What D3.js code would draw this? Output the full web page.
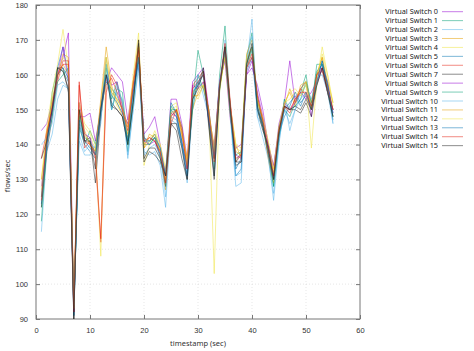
<!DOCTYPE html>
<html>
<head>
<meta charset="utf-8">
<script src="https://cdn.jsdelivr.net/npm/d3@7"></script>
<style>
  body { margin: 0; background: #fff; }
  svg { display: block; font-family: "Noto Sans", sans-serif; }
  .axis text { fill: #333; font-size: 7.5px; }
</style>
</head>
<body>
<svg width="474" height="351"></svg>
<script>
// ---- Data (flows/sec per virtual switch, t = 1..55)
const timestamps = d3.range(1, 56);
const switchNames = d3.range(16).map(i => `Virtual Switch ${i}`);
const xTicks = [0, 10, 20, 30, 40, 50, 60];
const yTicks = [90, 100, 110, 120, 130, 140, 150, 160, 170, 180];

const sw0  = [144,146,152,160,165,172,93,148,148,149,141,150,158,162,160,158,147,158,166,143,145,148,140,131,153,153,146,136,158,160,162,150,138,158,164,147,139,140,160,162,157,150,140,133,146,152,164,152,156,158,148,160,163,155,150];
const sw1  = [122,140,155,162,161,158,92,145,140,144,140,150,163,153,158,152,138,152,165,140,140,142,136,129,150,150,145,133,152,167,160,147,133,160,174,150,135,138,165,172,150,145,137,128,142,150,148,152,155,160,150,163,163,157,150];
const sw2  = [115,138,143,153,157,156,93,141,137,137,140,146,165,150,155,153,137,150,162,138,137,138,134,122,147,146,140,129,150,158,156,148,131,155,170,148,128,129,163,176,148,145,137,124,140,153,144,150,153,155,150,160,163,158,146];
const sw3  = [125,143,152,159,166,165,94,152,144,140,138,153,168,157,152,148,142,158,170,139,141,143,138,127,148,150,142,135,150,155,158,148,140,156,166,151,140,136,166,170,152,147,136,129,143,152,155,151,157,158,152,160,165,155,150];
const sw4  = [130,145,155,163,173,162,95,150,145,143,138,150,160,155,151,149,146,160,172,134,140,144,140,133,151,152,143,136,155,153,157,150,103,155,166,150,140,139,165,168,152,148,141,133,145,152,153,155,154,157,150,158,166,160,152];
const sw5  = [123,142,150,162,168,160,91,146,140,138,136,150,158,156,154,150,141,156,164,142,141,143,139,131,150,148,140,131,155,157,160,148,136,157,166,150,131,133,161,165,150,146,138,130,143,148,151,155,152,154,151,158,164,157,147];
const sw6  = [136,144,150,158,164,164,92,158,139,141,136,112,155,160,157,151,145,158,168,140,142,141,137,128,146,150,145,133,157,159,161,149,135,157,169,152,135,137,162,165,154,146,137,130,143,151,149,153,156,154,150,160,161,155,150];
const sw7  = [122,138,148,162,162,155,90,150,141,142,129,148,160,152,150,148,140,152,170,135,138,137,135,131,146,144,136,130,153,157,162,145,130,156,168,149,134,135,163,168,150,144,140,131,145,151,150,150,149,152,148,157,162,155,148];
const sw8  = [128,140,150,160,168,158,92,152,143,142,137,151,160,157,158,149,146,155,164,141,140,141,137,132,149,148,141,133,157,156,158,147,139,158,166,151,137,136,160,164,155,148,140,134,144,152,150,152,155,153,155,158,162,158,149];
const sw9  = [118,140,148,158,160,162,93,148,142,141,137,150,162,150,156,155,140,153,165,142,140,142,137,128,151,149,140,134,150,160,156,150,136,156,168,150,137,138,162,167,153,146,138,128,142,153,150,151,153,158,152,161,163,156,148];
const sw10 = [140,142,146,157,158,156,94,143,138,140,139,147,163,150,157,152,136,150,163,137,139,140,137,125,148,147,140,133,152,160,154,148,137,158,167,148,131,132,164,171,148,142,136,126,141,150,146,150,155,157,153,159,160,155,146];
const sw11 = [130,142,153,160,163,160,93,150,143,140,138,152,165,155,153,150,143,157,168,139,143,142,138,130,149,150,143,136,154,154,157,150,138,157,165,148,138,137,164,168,153,147,138,132,144,151,156,152,156,158,150,160,165,158,152];
const sw12 = [127,144,152,161,165,162,93,152,146,144,140,108,165,156,153,150,145,158,166,140,142,143,140,132,150,151,144,134,155,156,157,149,138,156,166,151,139,138,163,168,153,148,141,133,145,152,155,156,154,158,139,158,168,160,151];
const sw13 = [125,141,150,160,162,159,91,147,141,139,137,150,160,154,152,149,141,155,165,141,141,142,139,131,152,149,141,131,154,158,160,147,137,157,167,149,133,136,163,168,151,146,138,130,143,150,152,154,151,155,150,158,164,157,149];
const sw14 = [124,143,151,160,163,163,92,157,141,140,137,113,157,159,155,150,144,157,167,141,142,141,138,129,148,150,144,133,156,158,160,149,136,157,168,151,136,137,162,166,154,147,139,131,144,151,150,153,155,155,151,160,162,156,150];
const sw15 = [136,141,150,162,161,156,90,150,141,141,133,150,160,151,150,148,140,152,169,136,139,139,136,131,146,146,139,130,153,156,161,146,131,156,168,150,135,135,163,169,151,145,139,130,144,151,150,151,150,153,150,157,162,155,148];

const series = [sw0, sw1, sw2, sw3, sw4, sw5, sw6, sw7, sw8, sw9, sw10, sw11, sw12, sw13, sw14, sw15];
const palette = ['#9400d3', '#009e73', '#56b4e9', '#e69f00', '#f0e442', '#0072b2', '#e51e10', '#222222'];

const svg = d3.select('svg');
const plot = { left: 36, right: 360, top: 5, bottom: 319 };

// ---- Escalas
const mapX = d3.scaleLinear().domain([0, 60]).range([plot.left, plot.right]);
const mapY = d3.scaleLinear().domain([90, 180]).range([plot.bottom, plot.top]);
const mapC = i => palette[i % palette.length];

// ---- Grid
const grid = svg.append('g').attr('stroke', '#ccc').attr('stroke-width', 0.5).attr('stroke-dasharray', '1,2');
grid.selectAll('.gx').data(xTicks.slice(1, -1)).join('line')
    .attr('x1', d => mapX(d)).attr('x2', d => mapX(d))
    .attr('y1', plot.top).attr('y2', plot.bottom);
grid.selectAll('.gy').data(yTicks.slice(1, -1)).join('line')
    .attr('y1', d => mapY(d)).attr('y2', d => mapY(d))
    .attr('x1', plot.left).attr('x2', plot.right);

// ---- Eixos (ticks inward, mirrored)
svg.append('g').attr('class', 'axis')
    .attr('transform', `translate(0, ${plot.bottom})`)
    .call(d3.axisBottom(mapX).tickValues(xTicks).tickSize(-4).tickPadding(9))
    .call(g => g.select('.domain').remove());
svg.append('g').attr('class', 'axis')
    .attr('transform', `translate(0, ${plot.top})`)
    .call(d3.axisTop(mapX).tickValues(xTicks).tickSize(-4).tickFormat(''))
    .call(g => g.select('.domain').remove());
svg.append('g').attr('class', 'axis')
    .attr('transform', `translate(${plot.left}, 0)`)
    .call(d3.axisLeft(mapY).tickValues(yTicks).tickSize(-4).tickPadding(8))
    .call(g => g.select('.domain').remove());
svg.append('g').attr('class', 'axis')
    .attr('transform', `translate(${plot.right}, 0)`)
    .call(d3.axisRight(mapY).tickValues(yTicks).tickSize(-4).tickFormat(''))
    .call(g => g.select('.domain').remove());
svg.selectAll('.axis line').attr('stroke', '#777');

svg.append('rect')
    .attr('x', plot.left).attr('y', plot.top)
    .attr('width', plot.right - plot.left).attr('height', plot.bottom - plot.top)
    .attr('fill', 'none').attr('stroke', '#777').attr('stroke-width', 1);

// ---- Paths
const line = d3.line()
    .x((d, i) => mapX(timestamps[i]))
    .y(d => mapY(d));

svg.append('g').attr('id', 'group')
    .selectAll('path').data(series).join('path')
    .attr('fill', 'none')
    .attr('stroke', (d, i) => mapC(i))
    .attr('stroke-opacity', 0.65)
    .attr('stroke-width', 0.8)
    .attr('d', line);

// ---- Labels
svg.append('text')
    .attr('x', (plot.left + plot.right) / 2).attr('y', 346)
    .attr('text-anchor', 'middle').attr('font-size', 7.5).attr('fill', '#333')
    .text('timestamp (sec)');
svg.append('text')
    .attr('transform', 'translate(10, 176) rotate(-90)')
    .attr('text-anchor', 'middle').attr('font-size', 7.5).attr('fill', '#333')
    .text('flows/sec');

// ---- Legend
const legend = svg.append('g').selectAll('g').data(switchNames).join('g')
    .attr('transform', (d, i) => `translate(0, ${11.7 + i * 8.93})`);
legend.append('text')
    .attr('x', 438).attr('dy', '0.35em')
    .attr('text-anchor', 'end').attr('font-size', 7.3).attr('fill', '#222')
    .text(d => d);
legend.append('line')
    .attr('x1', 442).attr('x2', 463)
    .attr('stroke', (d, i) => mapC(i)).attr('stroke-opacity', 0.65).attr('stroke-width', 0.8);
</script>
</body>
</html>
